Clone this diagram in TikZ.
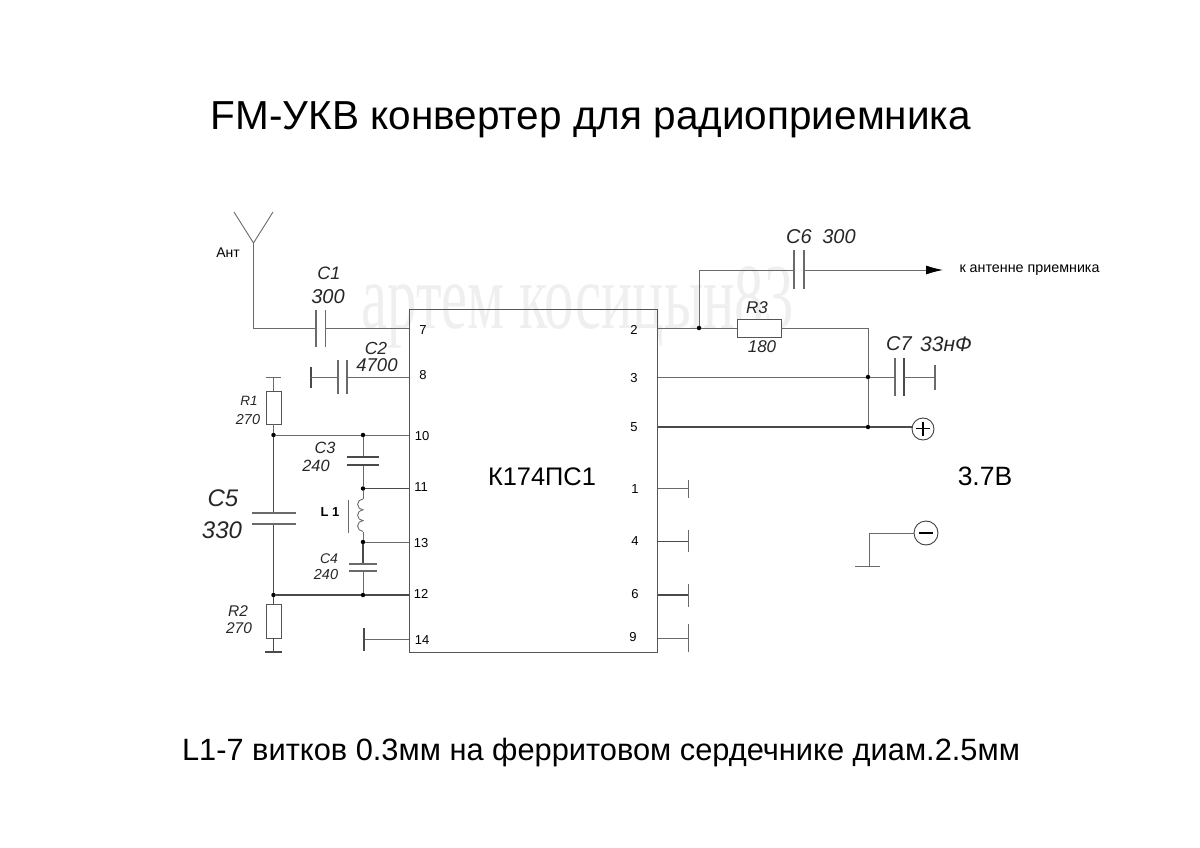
\documentclass[tikz,border=0pt]{standalone}
\usepackage{fontspec}
\setmainfont{Liberation Sans}
\newfontfamily\wmfont{Liberation Serif}
\usetikzlibrary{arrows.meta}
\newcommand{\fs}[1]{\fontsize{#1}{#1}\selectfont}
\definecolor{wire}{HTML}{6A6A6A}
\definecolor{wm}{HTML}{EFEFEF}
\tikzset{
  x=1pt,y=-1pt,
  w/.style={draw=wire,line width=0.9pt},
  wk/.style={draw=wire!70!black,line width=1.5pt},
  ic/.style={draw=wire!80!black,line width=1pt},
  plate/.style={draw=wire,line width=1.1pt},
  res/.style={draw=wire!80!black,line width=0.9pt,fill=white,minimum width=#1,inner sep=0pt,outer sep=0pt},
  rv/.style={res=15pt,minimum height=33pt},
  rh/.style={res=44pt,minimum height=18pt},
  dot/.style={circle,fill=black,inner sep=0pt,minimum size=4.5pt},
  term/.style={circle,draw=black!75,line width=0.9pt,fill=white,inner sep=0pt,minimum size=#1},
  lab/.style={inner sep=0pt,text=black!85,font=\itshape\fs{#1}},
  pin/.style={inner sep=0pt,text=black,font=\fs{13}},
  txt/.style={inner sep=0pt,text=black,font=\fs{#1}},
}
\begin{document}
\begin{tikzpicture}
\useasboundingbox (0,0) rectangle (1200,848);
% watermark
\node[name=wmark,inner sep=0pt,text=wm,anchor=center] at (577.5,307)
  {\scalebox{0.61}[0.97]{\wmfont\fs{96}артем косицын83}};
% titles
\node[txt=40.5,name=title] at (591,120) {FM-УКВ конвертер для радиоприемника};
\node[txt=30.8,name=note] at (601,753) {L1-7 витков 0.3мм на ферритовом сердечнике диам.2.5мм};
% IC
\node[name=ic,draw=wire!80!black,line width=1pt,inner sep=0pt,minimum width=248.5pt,minimum height=343.5pt,anchor=north west] at (408.5,308.5) {};
\node[txt=25.4,name=icname] at (542,477) {К174ПС1};
% left pin points
\coordinate (p7) at (ic.west|-0,328);
\coordinate (p8) at (ic.west|-0,377);
\coordinate (p10) at (ic.west|-0,435);
\coordinate (p11) at (ic.west|-0,489);
\coordinate (p13) at (ic.west|-0,542);
\coordinate (p12) at (ic.west|-0,595);
\coordinate (p14) at (ic.west|-0,639);
% right pin points
\coordinate (p2) at (ic.east|-0,328);
\coordinate (p3) at (ic.east|-0,377);
\coordinate (p5) at (ic.east|-0,427);
\coordinate (p1) at (ic.east|-0,488);
\coordinate (p4) at (ic.east|-0,541.5);
\coordinate (p6) at (ic.east|-0,595);
\coordinate (p9) at (ic.east|-0,638);
% pin numbers
\node[pin,name=n7] at (423,330) {7};
\node[pin,name=n8] at (423,375) {8};
\node[pin,name=n10] at (422,436) {10};
\node[pin,name=n11] at (421,487) {11};
\node[pin,name=n13] at (421,543) {13};
\node[pin,name=n12] at (421,594) {12};
\node[pin,name=n14] at (422,640) {14};
\node[pin,name=n2] at (634,330) {2};
\node[pin,name=n3] at (634,378) {3};
\node[pin,name=n5] at (634,427) {5};
\node[pin,name=n1] at (635,489) {1};
\node[pin,name=n4] at (635,541) {4};
\node[pin,name=n6] at (635,594) {6};
\node[pin,name=n9] at (633,637) {9};
% antenna and C1
\coordinate (antj) at (253.5,243);
\coordinate (antl) at (234,212);
\coordinate (antr) at (273,212);
\coordinate (antb) at (253.5,328);
\coordinate (c1a) at (316,328);
\coordinate (c1b) at (325.5,328);
\draw[w] (antl) -- (antj) -- (antr);
\draw[w] (antj) -- (antb) -- (c1a);
\draw[w] (c1b) -- (p7);
\draw[plate] (316,310) -- (316,347);
\draw[plate] (325.5,310) -- (325.5,347);
\node[txt=14,name=tant] at (228,253) {Ант};
\node[lab=18,name=tc1] at (329,273) {C1};
\node[lab=20,name=vc1] at (328,297) {300};
% C2
\coordinate (g2) at (311,377);
\coordinate (c2a) at (338,377);
\coordinate (c2b) at (347,377);
\draw[wk] (311,367) -- (311,388);
\draw[w] (g2) -- (c2a);
\draw[plate] (338,360) -- (338,394);
\draw[plate] (347,360) -- (347,394);
\draw[w] (c2b) -- (p8);
\node[lab=17.5,name=tc2] at (376,348) {C2};
\node[lab=18.5,name=vc2] at (377,365) {4700};
% R1
\node[rv,name=r1] at (273.5,407.5) {};
\coordinate (r1t) at (273.5,377);
\node[dot,name=d10l] at (273.5,435) {};
\node[dot,name=d10r] at (363,435) {};
\draw[w] (266,377) -- (281,377);
\draw[w] (r1t) -- (r1.north);
\draw[w] (r1.south) -- (d10l);
\draw[w] (d10l) -- (d10r) -- (p10);
\node[lab=13.5,name=tr1] at (249,401) {R1};
\node[lab=14.4,name=vr1] at (248,420) {270};
% C5
\coordinate (c5a) at (273.5,513);
\coordinate (c5b) at (273.5,524);
\node[dot,name=d12l] at (273.5,595) {};
\node[dot,name=d12r] at (363,595) {};
\draw[wk] (d10l) -- (c5a);
\draw[wk] (c5b) -- (d12l);
\draw[plate] (252,513) -- (296,513);
\draw[plate] (252,524) -- (296,524);
\node[lab=24,name=tc5] at (223,498) {C5};
\node[lab=24,name=vc5] at (222,530) {330};
% R2
\node[rv,name=r2,minimum height=34pt] at (273.5,621) {};
\coordinate (r2b) at (273.5,652);
\draw[wk] (d12l) -- (r2.north);
\draw[wk] (r2.south) -- (r2b);
\draw[wk] (265,652) -- (282,652);
\draw[wk] (d12l) -- (d12r) -- (p12);
\node[lab=15.5,name=tr2] at (238,611) {R2};
\node[lab=15.5,name=vr2] at (239,628) {270};
% C3
\coordinate (c3a) at (363,457);
\coordinate (c3b) at (363,465);
\node[dot,name=d11] at (363,488.5) {};
\draw[w] (d10r) -- (c3a);
\draw[w] (c3b) -- (d11);
\draw[wk] (347,457) -- (379,457);
\draw[wk] (347,465) -- (379,465);
\draw[wk] (d11) -- (d11-|p11) ;
\node[lab=16.3,name=tc3] at (325,448) {C3};
\node[lab=16.3,name=vc3] at (316,466) {240};
% L1
\coordinate (l1t) at (363,499);
\coordinate (l1b) at (363,531.5);
\node[dot,name=d13] at (363,542) {};
\draw[w] (d11) -- (l1t);
\draw[w] (l1t) arc[start angle=90,end angle=270,radius=5.4pt]
  arc[start angle=90,end angle=270,radius=5.4pt]
  arc[start angle=90,end angle=270,radius=5.4pt];
\draw[w] (l1b) -- (d13);
\draw[w] (d13) -- (p13);
\draw[w] (348,500) -- (348,533);
\node[txt=13,name=tl1,font=\bfseries\fs{13}] at (330,512) {L 1};
% C4
\coordinate (c4a) at (363,564);
\coordinate (c4b) at (363,571);
\draw[wk] (d13) -- (c4a);
\draw[w] (c4b) -- (d12r);
\draw[plate] (349,564) -- (377,564);
\draw[plate] (349,571) -- (377,571);
\node[lab=14,name=tc4] at (329,559) {C4};
\node[lab=14.5,name=vc4] at (326,575) {240};
% pin 14
\coordinate (g14) at (364,639);
\draw[w] (g14) -- (p14);
\draw[wk] (364,628) -- (364,651);
% pin 2, C6, R3
\node[dot,name=d2] at (699,328) {};
\node[rh,name=r3] at (759,328) {};
\coordinate (c6l) at (699,270);
\coordinate (c6a) at (794,270);
\coordinate (c6b) at (804,270);
\coordinate (arrow) at (943,270);
\draw[w] (p2) -- (d2) -- (r3.west);
\draw[w] (d2) -- (c6l) -- (c6a);
\draw[plate] (794,250) -- (794,289);
\draw[plate] (804,250) -- (804,289);
\draw[w,-{Latex[length=17pt,width=9pt,black]}] (c6b) -- (arrow);
\node[lab=20,name=tc6] at (799,237) {C6};
\node[lab=20,name=vc6] at (839,237) {300};
\node[txt=14.3,name=tout] at (1029.5,270) {к антенне приемника};
\node[lab=17,name=tr3] at (757,308) {R3};
\node[lab=17,name=vr3] at (762,347) {180};
% right bus
\coordinate (bus) at (868,328);
\node[dot,name=d3] at (868,377) {};
\node[dot,name=d5] at (868,427) {};
\draw[w] (r3.east) -- (bus) -- (d3) -- (d5);
\draw[w] (p3) -- (d3);
\coordinate (c7a) at (895,377);
\coordinate (c7b) at (904,377);
\coordinate (g7) at (935,377);
\draw[w] (d3) -- (c7a);
\draw[plate] (895,358) -- (895,396);
\draw[wk] (904,358) -- (904,396);
\draw[w] (c7b) -- (g7);
\draw[plate] (935,365) -- (935,390);
\node[lab=20,name=tc7,anchor=west] at (886,344) {C7};
\node[lab=21,name=vc7,anchor=west] at (920,344) {33нФ};
% plus terminal
\node[term=22pt,name=plus] at (923,429) {};
\draw[wk] (p5) -- (d5) -- (d5-|plus.west);
\draw[line width=1.1pt,black] (916,428.5) -- (930,428.5) (923,421.5) -- (923,435.5);
\node[txt=26.5,name=volt] at (985,476) {3.7В};
% minus terminal
\node[term=24pt,name=minus] at (926,533) {};
\coordinate (mc) at (869,533);
\coordinate (mg) at (869,566);
\draw[w] (minus) -- (mc) -- (mg);
\draw[w] (855,566) -- (880,566);
\draw[line width=1.4pt,black] (919,533) -- (933,533);
% grounded pins on the right
\coordinate (g1) at (688,488);
\coordinate (g4) at (688,541.5);
\coordinate (g6) at (688,595);
\coordinate (g9) at (688,638);
\draw[w] (p1) -- (g1);
\draw[wk] (p4) -- (g4);
\draw[wk] (p6) -- (g6);
\draw[w] (p9) -- (g9);
\draw[w] (688,480) -- (688,498);
\draw[w] (688,530) -- (688,552);
\draw[w] (688,584) -- (688,607);
\draw[w] (688,624) -- (688,652);
\end{tikzpicture}
\end{document}
